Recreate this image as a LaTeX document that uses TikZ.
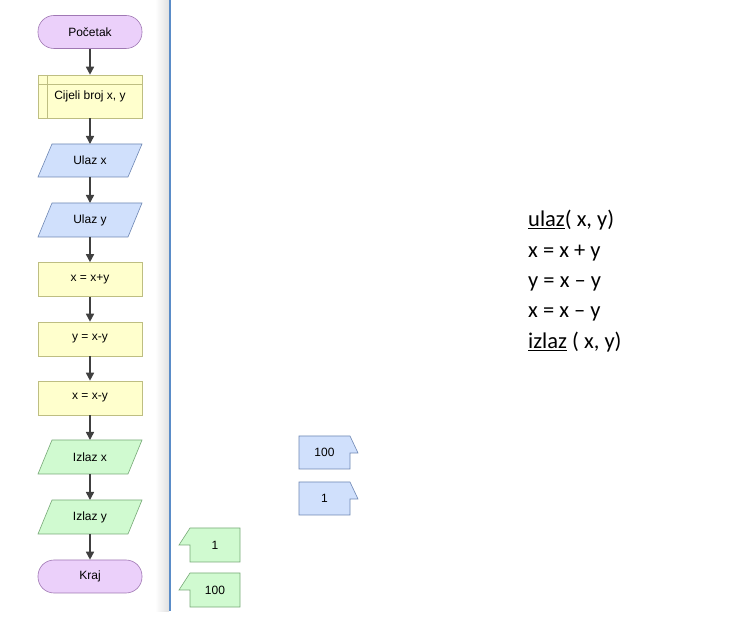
\documentclass[tikz,border=0pt]{standalone}
\usepackage{fontspec}
\setmainfont{Liberation Sans}
\newfontfamily\codefont{Carlito}
\usetikzlibrary{arrows.meta}
\definecolor{cblue}{RGB}{208,224,252}
\definecolor{cblueD}{RGB}{110,135,180}
\definecolor{cgreen}{RGB}{208,250,208}
\definecolor{cgreenD}{RGB}{120,170,120}
\definecolor{cyel}{RGB}{255,255,205}
\definecolor{cyelD}{RGB}{190,190,130}
\definecolor{cpur}{RGB}{235,208,250}
\definecolor{cpurD}{RGB}{160,120,180}
\definecolor{sep}{RGB}{90,140,200}
\begin{document}
\begin{tikzpicture}[x=1pt,y=-1pt,
 base/.style={draw, line width=0.6pt, minimum width=104pt, inner sep=0pt, font=\fontsize{12}{14}\selectfont},
 term/.style={base, fill=cpur, draw=cpurD, rounded corners=16pt, minimum height=33pt},
 proc/.style={base, fill=cyel, draw=cyelD, minimum height=34pt},
 iof/.style={draw=cblueD, fill=cblue, line width=0.6pt},
 outf/.style={draw=cgreenD, fill=cgreen, line width=0.6pt},
 lbl/.style={font=\fontsize{12}{14}\selectfont},
 ar/.style={-{Triangle[length=8pt,width=8pt]}, line width=1.5pt, draw=black!75}]
\useasboundingbox (0,0) rectangle (745,617);
\fill[white] (0,0) rectangle (745,617);
\shade[left color=white, right color=black!12] (155,0) rectangle (169,611);
\draw[sep, line width=1.2pt] (170,0) -- (170,611);
% flowchart
\node[term] (start) at (90,32) {Početak};
\node[proc, minimum height=43pt] (decl) at (90,96.5) {\raisebox{-5pt}{Cijeli broj x, y}};
\draw[cyelD, line width=0.6pt] (47,75) -- (47,118) (38,84) -- (142,84);
\draw[iof] (38,177) -- (52,144) -- (142,144) -- (128,177) -- cycle;
\node[lbl] (nux) at (90,160.5) {Ulaz x};
\draw[iof] (38,237) -- (52,203) -- (142,203) -- (128,237) -- cycle;
\node[lbl] (nuy) at (90,220) {Ulaz y};
\node[proc] (p1) at (90,279.5) {x = x+y};
\node[proc] (p2) at (90,339) {y = x-y};
\node[proc] (p3) at (90,398) {x = x-y};
\draw[outf] (38,474) -- (52,440) -- (142,440) -- (128,474) -- cycle;
\node[lbl] (nix) at (90,457) {Izlaz x};
\draw[outf] (38,534) -- (52,500) -- (142,500) -- (128,534) -- cycle;
\node[lbl] (niy) at (90,517) {Izlaz y};
\node[term] (end) at (90,576.5) {Kraj};
\draw[ar] (start.south) -- (decl.north);
\draw[ar] (decl.south) -- (90,144);
\draw[ar] (90,177) -- (90,203);
\draw[ar] (90,237) -- (p1.north);
\draw[ar] (p1.south) -- (p2.north);
\draw[ar] (p2.south) -- (p3.north);
\draw[ar] (p3.south) -- (90,440);
\draw[ar] (90,474) -- (90,500);
\draw[ar] (90,534) -- (end.north);
% console
\foreach \y/\t in {436/100, 482/1}{
  \draw[iof] (299,\y) -- (350,\y) -- (358,\y+17) -- (350,\y+17) -- (350,\y+33) -- (299,\y+33) -- cycle;
  \node[lbl] at (324.5,\y+16.5) {\t};
}
\foreach \y/\t in {528/1, 573/100}{
  \draw[outf] (190,\y) -- (240,\y) -- (240,\y+34) -- (190,\y+34) -- (190,\y+17) -- (179,\y+17) -- cycle;
  \node[lbl] at (215,\y+17) {\t};
}
% code text
\node[anchor=north west, align=left, font=\codefont\fontsize{22.5}{30.4}\selectfont, inner sep=0pt] (code) at (528,210) {\underline{ulaz}( x, y)\\ x = x + y\\ y = x – y\\ x = x – y\\ \underline{izlaz} ( x, y)};
\end{tikzpicture}
\end{document}
